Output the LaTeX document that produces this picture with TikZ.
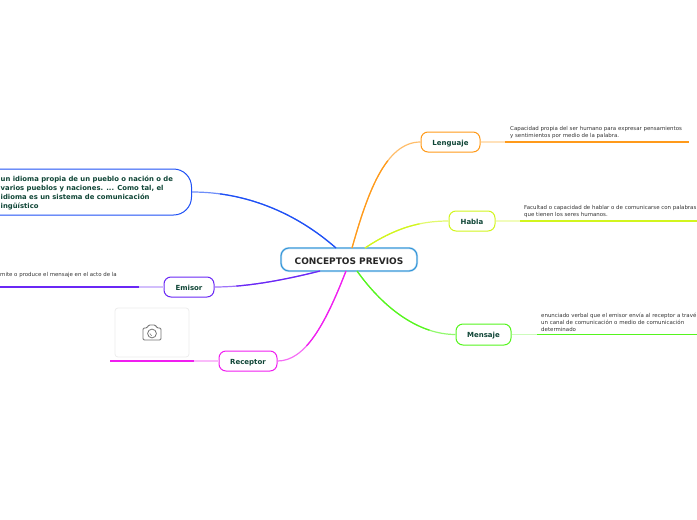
\documentclass[tikz,border=0pt]{standalone}
\usepackage{fontspec}
\setmainfont{DejaVu Sans}
\definecolor{txtg}{HTML}{0F4536}
\definecolor{txts}{HTML}{333333}
\definecolor{cblue}{HTML}{2F93D8}
\definecolor{corange}{HTML}{FF9A1A}
\definecolor{cyel}{HTML}{D2F51E}
\definecolor{cgreen}{HTML}{55F51E}
\definecolor{cmag}{HTML}{F01EF0}
\definecolor{cpur}{HTML}{6A28F5}
\definecolor{cbig}{HTML}{1E50F5}
\tikzset{
  topic/.style={draw=#1,line width=1pt,rounded corners=7pt,fill=white,anchor=center,inner sep=0pt,
     text height=6.5pt,text depth=0pt,text=txtg,font=\bfseries\fontsize{7}{8}\selectfont},
  branch/.style={line width=1.2pt,#1!65},
  branchfull/.style 2 args={line width=1.2pt,#1,dash pattern=on #2pt off 2000pt},
  leaf/.style={line width=1.6pt,#1},
  stub/.style={line width=1.1pt,#1!30},
  small/.style={text=txts,font=\fontsize{5.45}{7}\selectfont,anchor=south west,inner sep=0pt,align=left},
}
\begin{document}
\begin{tikzpicture}[x=1pt,y=-1pt]
\useasboundingbox (0,0) rectangle (697,520);
\clip (0,0) rectangle (697,520);
% anchors on the central node
\coordinate (aO) at (352,248);
\coordinate (aY) at (365,248);
\coordinate (aG) at (357,271);
\coordinate (aM) at (346,271);
\coordinate (aP) at (320,271);
\coordinate (aB) at (336,248);
% leaf free ends
\coordinate (lO0) at (505,142); \coordinate (lO1) at (689,142);
\coordinate (lY0) at (520,221); \coordinate (lY1) at (697,221);
\coordinate (lG0) at (537,334.5); \coordinate (lG1) at (697,334.5);
\coordinate (lM0) at (194,361); \coordinate (lM1) at (110,361);
\coordinate (lP0) at (139,287); \coordinate (lP1) at (0,287);
% nodes
\node[topic=cblue!45,line width=2pt,rounded corners=8pt,minimum width=136pt,minimum height=23pt] (c) at (349,259.5) {};
\node[topic=corange,minimum width=59pt,minimum height=20pt] (len) at (450.5,142) {Lenguaje};
\node[topic=cyel,minimum width=46pt,minimum height=20pt] (hab) at (472,221) {Habla};
\node[topic=cgreen,minimum width=55pt,minimum height=21pt] (men) at (483.5,334.5) {Mensaje};
\node[topic=cmag,minimum width=58pt,minimum height=20pt] (rec) at (248,361) {Receptor};
\node[topic=cpur,minimum width=50pt,minimum height=20pt] (emi) at (189,287) {Emisor};
\node[topic=cbig,rounded corners=18pt,minimum width=231pt,minimum height=46pt] (big) at (76,192) {};
\node[text=txtg,font=\bfseries\fontsize{6.85}{8.9}\selectfont,anchor=west,inner sep=0pt,align=left] (bigt) at (0.5,192.8)
 {un idioma propia de un pueblo o nación o de\\varios pueblos y naciones. ... Como tal, el\\idioma es un sistema de comunicación\\ingüístico};
\node[draw=cblue,line width=0.8pt,rounded corners=8pt,minimum width=136pt,minimum height=23pt,inner sep=0pt,
      text height=9pt,text depth=0pt,font=\bfseries\fontsize{9}{10}\selectfont,text=black!85] (ct) at (349,259.5) {CONCEPTOS PREVIOS};
% connectors
\draw[branch=corange] (aO) .. controls (367,195) and (385,142) .. (len.west);
\draw[branch=cyel] (aY) .. controls (395,228) and (420,221) .. (hab.west);
\draw[branch=cgreen] (aG) .. controls (385,310) and (420,334.5) .. (men.west);
\draw[branch=cmag] (aM) .. controls (325,325) and (305,361) .. (rec.east);
\draw[branch=cpur] (aP) .. controls (280,281) and (245,287) .. (emi.east);
\draw[branch=cbig] (aB) .. controls (295,212) and (245,192) .. (big.east);
\draw[branchfull={corange}{95}] (aO) .. controls (367,195) and (385,142) .. (len.west);
\draw[branchfull={cyel}{60}] (aY) .. controls (395,228) and (420,221) .. (hab.west);
\draw[branchfull={cgreen}{95}] (aG) .. controls (385,310) and (420,334.5) .. (men.west);
\draw[branchfull={cmag}{85}] (aM) .. controls (325,325) and (305,361) .. (rec.east);
\draw[branchfull={cpur}{85}] (aP) .. controls (280,281) and (245,287) .. (emi.east);
\draw[branchfull={cbig}{130}] (aB) .. controls (295,212) and (245,192) .. (big.east);
% leaf stubs and rules
\draw[stub=corange] (len.east) -- (lO0); \draw[leaf=corange] (lO0) -- (lO1);
\draw[stub=cyel] (hab.east) -- (lY0); \draw[leaf=cyel] (lY0) -- (lY1);
\draw[stub=cgreen] (men.east) -- (lG0); \draw[leaf=cgreen] (lG0) -- (lG1);
\draw[stub=cmag] (rec.west) -- (lM0); \draw[leaf=cmag] (lM0) -- (lM1);
\draw[stub=cpur] (emi.west) -- (lP0); \draw[leaf=cpur] (lP0) -- (lP1);
% leaf texts
\node[small] (tO) at (510,139) {Capacidad propia del ser humano para expresar pensamientos\\y sentimientos por medio de la palabra.};
\node[small] (tY) at (524,218) {Facultad o capacidad de hablar o de comunicarse con palabras\\que tienen los seres humanos.};
\node[small] (tG) at (541,332) {enunciado verbal que el emisor envía al receptor a travé\\un canal de comunicación o medio de comunicación\\determinado};
\node[small] (tP) at (0,277.5) {mite o produce el mensaje en el acto de la};
% image card and camera
\node[draw=black!8,line width=0.7pt,rounded corners=3pt,minimum width=74pt,minimum height=49pt,inner sep=0pt] (card) at (152,332.5) {};
\draw[black!55,line width=0.9pt,rounded corners=1.2pt,line join=round]
  (143,328) -- (147,328) -- (148.5,325) -- (155.5,325) -- (157,328) -- (161,328) -- (161,340) -- (143,340) -- cycle;
\draw[black!55,line width=0.8pt] (152,333.5) circle (4.4);
\draw[black!55,line width=0.5pt] (149.8,333.5) arc (180:100:2.3);
\end{tikzpicture}
\end{document}
